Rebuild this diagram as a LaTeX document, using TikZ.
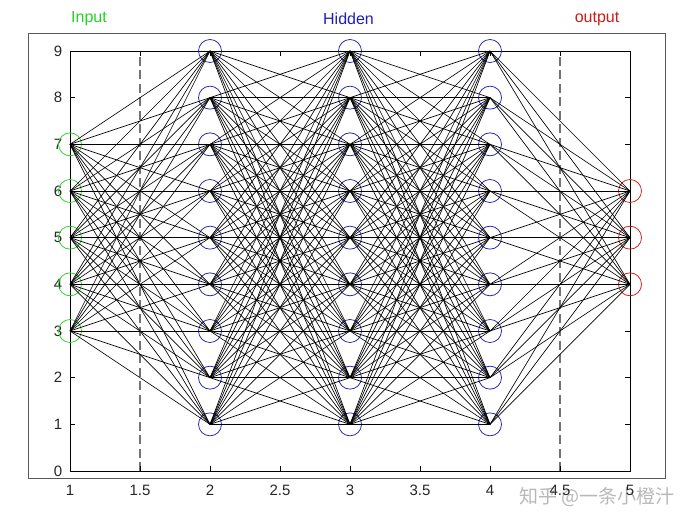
\documentclass[tikz,border=0pt]{standalone}
\usepackage{fontspec}
\setmainfont{Liberation Sans}
\newfontfamily\cjkfont{Noto Sans CJK SC}
\definecolor{ingreen}{rgb}{0.15,0.82,0.15}
\definecolor{hidblue}{rgb}{0.12,0.12,0.72}
\definecolor{outred}{rgb}{0.82,0.1,0.1}
\definecolor{wmgray}{rgb}{0.72,0.72,0.72}
\begin{document}
\begin{tikzpicture}[x=1pt,y=1pt,
  neuron/.style={circle, draw, minimum size=23pt, inner sep=0pt, line width=0.75pt},
  edge/.style={black, line width=0.65pt},
  ticklab/.style={font=\fontsize{15}{15}\selectfont, inner sep=0pt, text=black!85},
  titlelab/.style={font=\fontsize{16}{16}\selectfont, inner sep=0pt},
  guide/.style={black!55, line width=1.2pt, dash pattern=on 9pt off 4.5pt}]
\useasboundingbox (0,0) rectangle (700,525);
% watermark
\node[font=\fontsize{19}{19}\selectfont, text=wmgray, inner sep=0pt] (wm) at (597,28) {\cjkfont 知乎 @一条小橙汁};
% outer frame
\draw[line width=0.9pt, black!65] (28,47) rectangle (665,492);
% titles
\node[titlelab, text=ingreen] (tin) at (89,506) {Input};
\node[titlelab, text=hidblue] (thid) at (348.5,506) {Hidden};
\node[titlelab, text=outred] (tout) at (597,506) {output};
\begin{scope}[shift={(-70,54)}, x=140pt, y=46.667pt]
  % dashed guides
  \draw[guide] (1.5,0) -- (1.5,9);
  \draw[guide] (4.5,0) -- (4.5,9);
  % axes box
  \draw[black, line width=0.8pt] (1,0) rectangle (5,9);
  % ticks
  \foreach \yv in {0,...,9} {
    \draw[black, line width=0.6pt] (1,\yv) -- ++(5pt,0);
    \draw[black, line width=0.6pt] (5,\yv) -- ++(-5pt,0);
    \node[ticklab, anchor=east] (yl\yv) at (0.945,\yv) {\yv};
  }
  \foreach \xv in {1,1.5,2,2.5,3,3.5,4,4.5,5} {
    \draw[black, line width=0.6pt] (\xv,0) -- ++(0,5pt);
    \draw[black, line width=0.6pt] (\xv,9) -- ++(0,-5pt);
    \node[ticklab] (xl\xv) at (\xv,-0.407) {\xv};
  }
  % neurons
  \foreach \k in {3,...,7} \node[neuron, draw=ingreen] (i\k) at (1,\k) {};
  \foreach \k in {1,...,9} {
    \node[neuron, draw=hidblue] (a\k) at (2,\k) {};
    \node[neuron, draw=hidblue] (b\k) at (3,\k) {};
    \node[neuron, draw=hidblue] (c\k) at (4,\k) {};
  }
  \foreach \k in {4,5,6} \node[neuron, draw=outred] (o\k) at (5,\k) {};
  % connections
  \foreach \s in {3,...,7} \foreach \t in {1,...,9}
    \draw[edge] (i\s.center) -- (a\t.center);
  \foreach \s in {1,...,9} \foreach \t in {1,...,9} {
    \draw[edge] (a\s.center) -- (b\t.center);
    \draw[edge] (b\s.center) -- (c\t.center);
  }
  \foreach \s in {1,...,9} \foreach \t in {4,5,6}
    \draw[edge] (c\s.center) -- (o\t.center);
\end{scope}
\end{tikzpicture}
\end{document}
